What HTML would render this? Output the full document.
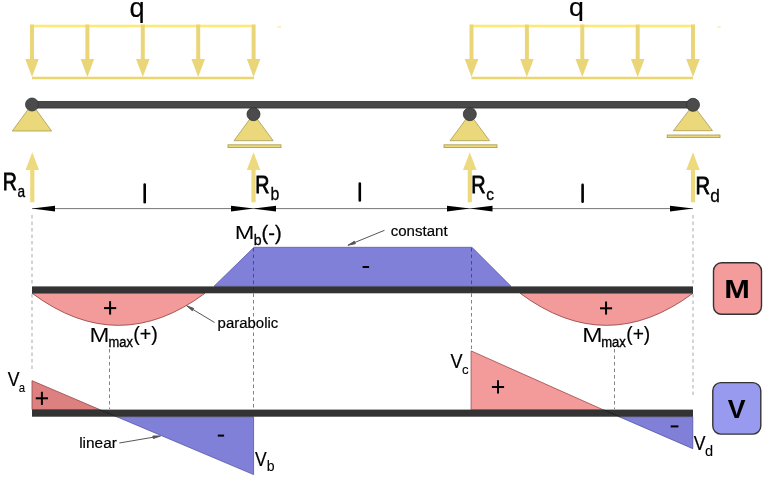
<!DOCTYPE html>
<html><head><meta charset="utf-8">
<style>
html,body{margin:0;padding:0;background:#fff;width:768px;height:477px;overflow:hidden}
svg{display:block;will-change:transform}
text{font-family:"Liberation Sans",sans-serif;fill:#000}
</style></head>
<body>
<svg width="768" height="477" viewBox="0 0 768 477">
<!-- distributed loads -->
<g id="loadL">
  <line x1="30.5" y1="26" x2="255" y2="26" stroke="#FFE874" stroke-width="2.6"/>
  <line x1="32" y1="78" x2="254" y2="78" stroke="#EAD66C" stroke-width="2.5"/>
  <g stroke="#EAD679" stroke-width="4">
    <line x1="32" y1="24.5" x2="32" y2="62"/>
    <line x1="87.4" y1="24.5" x2="87.4" y2="62"/>
    <line x1="142.8" y1="24.5" x2="142.8" y2="62"/>
    <line x1="198.2" y1="24.5" x2="198.2" y2="62"/>
    <line x1="253.6" y1="24.5" x2="253.6" y2="62"/>
  </g>
  <g fill="#EAD679">
    <polygon points="25.2,59 38.8,59 32,77"/>
    <polygon points="80.6,59 94.2,59 87.4,77"/>
    <polygon points="136,59 149.6,59 142.8,77"/>
    <polygon points="191.4,59 205,59 198.2,77"/>
    <polygon points="246.8,59 260.4,59 253.6,77"/>
  </g>
</g>
<g id="loadR">
  <line x1="470" y1="26" x2="694.5" y2="26" stroke="#FFE874" stroke-width="2.6"/>
  <line x1="471.5" y1="78" x2="693" y2="78" stroke="#EAD66C" stroke-width="2.5"/>
  <g stroke="#EAD679" stroke-width="4">
    <line x1="471.5" y1="24.5" x2="471.5" y2="62"/>
    <line x1="526.9" y1="24.5" x2="526.9" y2="62"/>
    <line x1="582.3" y1="24.5" x2="582.3" y2="62"/>
    <line x1="637.7" y1="24.5" x2="637.7" y2="62"/>
    <line x1="693" y1="24.5" x2="693" y2="62"/>
  </g>
  <g fill="#EAD679">
    <polygon points="464.7,59 478.3,59 471.5,77"/>
    <polygon points="520.1,59 533.7,59 526.9,77"/>
    <polygon points="575.5,59 589.1,59 582.3,77"/>
    <polygon points="630.9,59 644.5,59 637.7,77"/>
    <polygon points="686.2,59 699.8,59 693,77"/>
  </g>
</g>

<rect x="717.3" y="25.8" width="3.4" height="2" fill="#FFF0B8"/>
<rect x="277.6" y="25.8" width="3.4" height="2" fill="#FFF0B8"/>
<!-- supports -->
<g fill="#EAD87A" stroke="#A99A52" stroke-width="0.8">
  <polygon points="32,104 12.3,131 51.6,131"/>
  <polygon points="253.5,114 234,140.7 273.2,140.7"/>
  <polygon points="469.8,114 450,140.7 489.5,140.7"/>
  <polygon points="693,105 673.4,130.7 712.5,130.7"/>
  <rect x="228" y="144.8" width="53" height="2.8"/>
  <rect x="444" y="144.8" width="53" height="2.8"/>
  <rect x="667.2" y="135" width="52.8" height="2.6"/>
</g>
<!-- beam -->
<rect x="32" y="101.6" width="661" height="6.4" fill="#4A4A4A" stroke="#363636" stroke-width="0.9"/>
<g fill="#4B4B4B" stroke="#333" stroke-width="0.8">
  <circle cx="32" cy="104.5" r="6.5"/>
  <circle cx="253.5" cy="114.2" r="6.5"/>
  <circle cx="469.8" cy="114.2" r="6.5"/>
  <circle cx="693" cy="104.8" r="6.5"/>
</g>

<!-- reactions -->
<g fill="#EDDA7E">
  <rect x="30.2" y="169" width="4.2" height="33.3"/>
  <polygon points="25.5,170 39,170 32.3,152.3"/>
  <rect x="251.4" y="169" width="4.2" height="33.3"/>
  <polygon points="246.8,170 260.3,170 253.5,152.3"/>
  <rect x="467.7" y="169" width="4.2" height="33.3"/>
  <polygon points="463,170 476.5,170 469.8,152.3"/>
  <rect x="690.9" y="169" width="4.2" height="33.3"/>
  <polygon points="686.2,170 699.7,170 693,152.3"/>
</g>
<!-- dimension line -->
<line x1="32" y1="208.6" x2="693" y2="208.6" stroke="#777" stroke-width="1"/>
<g fill="#000">
  <polygon points="32,208.6 55,205.7 55,211.5"/>
  <polygon points="253.5,208.6 231,205.7 231,211.5"/>
  <polygon points="253.5,208.6 276,205.7 276,211.5"/>
  <polygon points="470,208.6 447,205.7 447,211.5"/>
  <polygon points="470,208.6 492.5,205.7 492.5,211.5"/>
  <polygon points="693,208.6 670,205.7 670,211.5"/>
</g>
<g stroke="#000" stroke-width="2.6" stroke-linecap="round">
  <line x1="144.7" y1="184.6" x2="144.7" y2="202.2"/>
  <line x1="359.8" y1="183.5" x2="359.8" y2="200.4"/>
  <line x1="582.6" y1="184.9" x2="582.6" y2="201.8"/>
</g>

<!-- M diagram -->
<path d="M32,293.2 Q118.5,357.5 205,293.2 Z" fill="#F39B9B" stroke="#9A4A4A" stroke-width="0.9"/>
<path d="M520,293.2 Q606.5,357.5 693,293.2 Z" fill="#F39B9B" stroke="#9A4A4A" stroke-width="0.9"/>
<polygon points="214,286.3 254,247.3 472,247.3 511,286.3" fill="#8080D8" stroke="#5A5AB0" stroke-width="0.8"/>
<rect x="32" y="286.4" width="661" height="6.9" fill="#333"/>

<!-- V diagram -->
<polygon points="32,380.7 99.5,409.5 32,409.5" fill="#DC8080" stroke="#A05050" stroke-width="0.9"/>
<polygon points="116.6,416.7 253.6,474.6 253.6,416.7" fill="#8080D8" stroke="#4A4A9A" stroke-width="0.7"/>
<polygon points="471.1,350.9 603.2,409.8 471.1,409.8" fill="#F39B9B" stroke="#9A4A4A" stroke-width="0.8"/>
<polygon points="619,416.7 692.8,448.7 692.8,416.7" fill="#8080D8" stroke="#4A4A9A" stroke-width="0.7"/>
<rect x="32" y="409.6" width="661" height="7.1" fill="#333"/>
<g stroke="#1a1a1a" stroke-width="0.7"><line x1="99.5" y1="409.6" x2="116.6" y2="416.7"/><line x1="603.2" y1="409.7" x2="619.4" y2="416.7"/></g>

<!-- dashed lines -->
<g stroke="rgba(0,0,0,0.17)" stroke-width="2" stroke-dasharray="3.5 3">
  <line x1="32" y1="215" x2="32" y2="286"/>
  <line x1="32" y1="294" x2="32" y2="371"/>
  <line x1="693" y1="215" x2="693" y2="286"/>
  <line x1="693" y1="294" x2="693" y2="396"/>
</g>
<g stroke="rgba(30,30,30,0.55)" stroke-width="1" stroke-dasharray="3.5 3">
  <line x1="253.5" y1="248" x2="253.5" y2="409"/>
  <line x1="471.5" y1="248" x2="471.5" y2="351"/>
  <line x1="109.5" y1="349" x2="109.5" y2="409"/>
  <line x1="614.5" y1="349" x2="614.5" y2="409"/>
</g>

<!-- signs -->
<g stroke="#000" stroke-width="2">
  <line x1="104" y1="308.1" x2="116.2" y2="308.1"/><line x1="110.1" y1="301.2" x2="110.1" y2="314.6"/>
  <line x1="600" y1="308.3" x2="612.1" y2="308.3"/><line x1="606.05" y1="301.5" x2="606.05" y2="314.6"/>
  <line x1="35.8" y1="398.3" x2="48" y2="398.3"/><line x1="41.9" y1="391.8" x2="41.9" y2="404.9"/>
  <line x1="491.9" y1="387.0" x2="504.1" y2="387.0"/><line x1="498" y1="380.2" x2="498" y2="393.6"/>
  <line x1="362.6" y1="267" x2="369.1" y2="267"/>
  <line x1="217.8" y1="435.6" x2="224.1" y2="435.6"/>
  <line x1="670.7" y1="426.4" x2="678.4" y2="426.4"/>
</g>

<!-- leaders -->
<g stroke="#555" stroke-width="1" fill="#555">
  <line x1="214.6" y1="322.5" x2="192.17" y2="309.04"/>
  <polygon points="186.6,305.7 193.70,308.44 192.36,310.67"/>
  <line x1="384.5" y1="230.3" x2="353.91" y2="242.84"/>
  <polygon points="347.9,245.3 354.35,241.25 355.33,243.66"/>
  <line x1="119.3" y1="443" x2="154.09" y2="437.09"/>
  <polygon points="160.5,436 153.32,438.54 152.89,435.97"/>
</g>

<!-- legend boxes -->
<rect x="713.5" y="262.8" width="48" height="51.5" rx="8" fill="#F49B9B" stroke="#333" stroke-width="1.4"/>
<rect x="712.8" y="382.6" width="48" height="51.5" rx="8" fill="#989AF0" stroke="#333" stroke-width="1.4"/>
<!-- labels -->
<text transform="translate(129.51,17.30) scale(1.011,1)" font-size="26.85" stroke="#000" stroke-width="0.2">q</text>
<text transform="translate(569.10,16.47) scale(1.071,1)" font-size="24.96" stroke="#000" stroke-width="0.2">q</text>
<text transform="translate(2.71,190.32) scale(0.800,1)" font-size="24.39" stroke="#000" stroke-width="0.8">R</text>
<text transform="translate(17.42,197.26) scale(0.806,1)" font-size="16.95" stroke="#000" stroke-width="0.4">a</text>
<text transform="translate(255.36,192.50) scale(0.844,1)" font-size="23.31" stroke="#000" stroke-width="0.8">R</text>
<text transform="translate(270.51,200.46) scale(0.910,1)" font-size="17.44" stroke="#000" stroke-width="0.3">b</text>
<text transform="translate(471.31,193.07) scale(0.837,1)" font-size="23.73" stroke="#000" stroke-width="0.8">R</text>
<text transform="translate(486.33,200.43) scale(0.880,1)" font-size="17.38" stroke="#000" stroke-width="0.4">c</text>
<text transform="translate(695.44,193.87) scale(0.849,1)" font-size="23.74" stroke="#000" stroke-width="0.8">R</text>
<text transform="translate(710.33,201.54) scale(0.956,1)" font-size="18.15" stroke="#000" stroke-width="0.3">d</text>
<text transform="translate(234.86,239.12) scale(1.241,1)" font-size="19.00">M</text>
<text transform="translate(253.64,244.99) scale(1.020,1)" font-size="13.84" stroke="#000" stroke-width="0.3">b</text>
<text transform="translate(261.61,239.83) scale(1.021,1)" font-size="19.66" stroke="#000" stroke-width="0.3">(-)</text>
<text transform="translate(89.57,341.63) scale(1.196,1)" font-size="20.00">M</text>
<text transform="translate(108.54,346.92) scale(0.920,1)" font-size="14.05" stroke="#000" stroke-width="0.35">max</text>
<text transform="translate(133.21,341.27) scale(0.973,1)" font-size="20.19" stroke="#000" stroke-width="0.2">(+)</text>
<text transform="translate(582.14,341.62) scale(1.217,1)" font-size="20.00">M</text>
<text transform="translate(601.19,346.94) scale(0.931,1)" font-size="14.03" stroke="#000" stroke-width="0.35">max</text>
<text transform="translate(626.27,341.26) scale(0.949,1)" font-size="20.21" stroke="#000" stroke-width="0.2">(+)</text>
<text transform="translate(217.59,327.68) scale(0.966,1)" font-size="15.50" stroke="#000" stroke-width="0.2">parabolic</text>
<text transform="translate(390.72,235.68) scale(0.971,1)" font-size="15.50" stroke="#000" stroke-width="0.2">constant</text>
<text transform="translate(79.20,447.86) scale(0.993,1)" font-size="15.50" stroke="#000" stroke-width="0.2">linear</text>
<text transform="translate(7.84,386.37) scale(0.861,1)" font-size="20.50" stroke="#000" stroke-width="0.2">V</text>
<text transform="translate(18.65,391.74) scale(0.838,1)" font-size="13.68" stroke="#000" stroke-width="0.1">a</text>
<text transform="translate(254.96,465.92) scale(0.854,1)" font-size="20.50" stroke="#000" stroke-width="0.2">V</text>
<text transform="translate(266.87,470.82) scale(0.978,1)" font-size="14.37" stroke="#000" stroke-width="0.1">b</text>
<text transform="translate(450.41,368.33) scale(0.885,1)" font-size="20.50" stroke="#000" stroke-width="0.2">V</text>
<text transform="translate(461.89,373.72) scale(0.999,1)" font-size="13.25" stroke="#000" stroke-width="0.1">c</text>
<text transform="translate(693.83,450.10) scale(0.862,1)" font-size="20.50" stroke="#000" stroke-width="0.2">V</text>
<text transform="translate(704.94,456.05) scale(1.057,1)" font-size="13.84" stroke="#000" stroke-width="0.1">d</text>
<text transform="translate(724.22,298.40) scale(1.184,1)" font-size="26.00" font-weight="bold">M</text>
<text transform="translate(727.85,418.40) scale(1.026,1)" font-size="26.00" font-weight="bold">V</text>
</svg>
</body></html>
